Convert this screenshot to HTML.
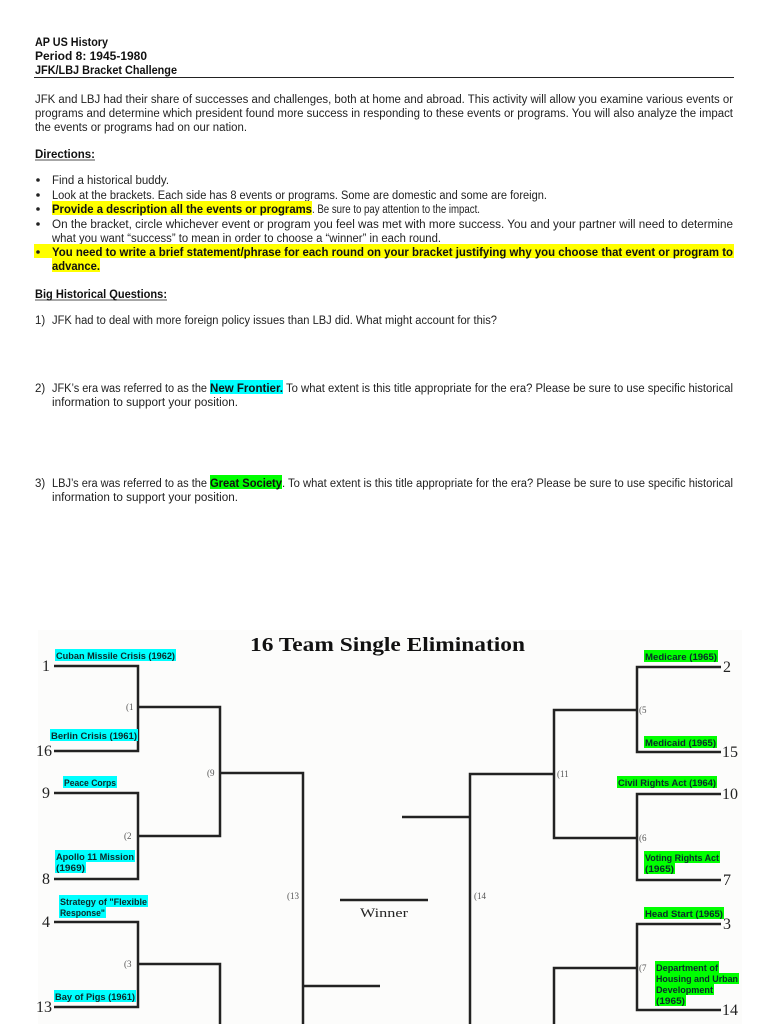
<!DOCTYPE html>
<html><head><meta charset="utf-8"><style>
html,body{margin:0;padding:0;background:#fff;}
svg{display:block;}
.b{font-family:"Liberation Sans",sans-serif;font-size:11.5px;fill:#222;}
.bb{font-family:"Liberation Sans",sans-serif;font-size:11.5px;font-weight:bold;fill:#111;}
.l{font-family:"Liberation Sans",sans-serif;font-size:9.5px;font-weight:bold;fill:#0a2a2a;}
.n{font-family:"Liberation Serif",serif;font-size:16px;fill:#222;}
.r{font-family:"Liberation Serif",serif;font-size:9px;fill:#555;}
.ln{stroke:#222;stroke-width:2.5;fill:none;}
</style></head><body>
<svg width="768" height="1024" viewBox="0 0 768 1024" xmlns="http://www.w3.org/2000/svg">
<rect width="768" height="1024" fill="#fff"/>
<text class="bb" x="35" y="46" textLength="73" lengthAdjust="spacingAndGlyphs">AP US History</text>
<text class="bb" x="35" y="60" textLength="112" lengthAdjust="spacingAndGlyphs">Period 8: 1945-1980</text>
<text class="bb" x="35" y="74" textLength="142" lengthAdjust="spacingAndGlyphs">JFK/LBJ Bracket Challenge</text>
<line x1="34" y1="77.5" x2="734" y2="77.5" stroke="#222" stroke-width="1"/>
<text class="b" x="35" y="103" textLength="698" lengthAdjust="spacingAndGlyphs">JFK and LBJ had their share of successes and challenges, both at home and abroad.  This activity will allow you examine various events or</text>
<text class="b" x="35" y="117" textLength="698" lengthAdjust="spacingAndGlyphs">programs and determine which president found more success in responding to these events or programs. You will also analyze the impact</text>
<text class="b" x="35" y="131" textLength="212" lengthAdjust="spacingAndGlyphs">the events or programs had on our nation.</text>
<text class="bb" x="35" y="158" textLength="60" lengthAdjust="spacingAndGlyphs">Directions:</text>
<line x1="35" y1="160" x2="95" y2="160" stroke="#111" stroke-width="0.8"/>
<g fill="#222"><circle cx="38" cy="180" r="1.8"/><circle cx="38" cy="195" r="1.8"/><circle cx="38" cy="209" r="1.8"/><circle cx="38" cy="224" r="1.8"/></g>
<text class="b" x="52" y="184" textLength="117" lengthAdjust="spacingAndGlyphs">Find a historical buddy.</text>
<text class="b" x="52" y="199" textLength="495" lengthAdjust="spacingAndGlyphs">Look at the brackets.  Each side has 8 events or programs.  Some are domestic and some are foreign.</text>
<rect x="52" y="201" width="260" height="14" fill="#ffff00"/>
<text class="bb" x="52" y="213" textLength="260" lengthAdjust="spacingAndGlyphs">Provide a description all the events or programs</text>
<text class="b" x="312" y="213" textLength="168" lengthAdjust="spacingAndGlyphs">.  Be sure to pay attention to the impact.</text>
<text class="b" x="52" y="228" textLength="681" lengthAdjust="spacingAndGlyphs">On the bracket, circle whichever event or program you feel was met with more success.  You and your partner will need to determine</text>
<text class="b" x="52" y="242" textLength="389" lengthAdjust="spacingAndGlyphs">what you want “success” to mean in order to choose a “winner” in each round.</text>
<rect x="34" y="244" width="700" height="14" fill="#ffff00"/>
<rect x="52" y="258" width="48" height="14" fill="#ffff00"/>
<circle cx="38" cy="252" r="1.8" fill="#222"/>
<text class="bb" x="52" y="256" textLength="681" lengthAdjust="spacingAndGlyphs">You need to write a brief statement/phrase for each round on your bracket justifying why you choose that event or program to</text>
<text class="bb" x="52" y="270" textLength="48" lengthAdjust="spacingAndGlyphs">advance.</text>
<text class="bb" x="35" y="298" textLength="132" lengthAdjust="spacingAndGlyphs">Big Historical Questions:</text>
<line x1="35" y1="300" x2="167" y2="300" stroke="#111" stroke-width="0.8"/>
<text class="b" x="35" y="324">1)</text>
<text class="b" x="52" y="324" textLength="445" lengthAdjust="spacingAndGlyphs">JFK had to deal with more foreign policy issues than LBJ did.  What might account for this?</text>
<text class="b" x="35" y="392">2)</text>
<text class="b" x="52" y="392" textLength="155" lengthAdjust="spacingAndGlyphs">JFK’s era was referred to as the</text>
<rect x="210" y="380" width="73" height="14" fill="#00ffff"/>
<text class="bb" x="210" y="392" textLength="73" lengthAdjust="spacingAndGlyphs">New Frontier.</text>
<text class="b" x="286" y="392" textLength="447" lengthAdjust="spacingAndGlyphs">To what extent is this title appropriate for the era? Please be sure to use specific historical</text>
<text class="b" x="52" y="406" textLength="186" lengthAdjust="spacingAndGlyphs">information to support your position.</text>
<text class="b" x="35" y="487">3)</text>
<text class="b" x="52" y="487" textLength="155" lengthAdjust="spacingAndGlyphs">LBJ’s era was referred to as the</text>
<rect x="210" y="475" width="72" height="14" fill="#00ff00"/>
<text class="bb" x="210" y="487" textLength="72" lengthAdjust="spacingAndGlyphs">Great Society</text>
<text class="b" x="282" y="487" textLength="451" lengthAdjust="spacingAndGlyphs">. To what extent is this title appropriate for the era? Please be sure to use specific historical</text>
<text class="b" x="52" y="501" textLength="186" lengthAdjust="spacingAndGlyphs">information to support your position.</text>

<rect x="38" y="630" width="704" height="394" fill="#fcfcfb"/>
<text x="250" y="651" font-family="Liberation Serif,serif" font-weight="bold" font-size="20" fill="#111" textLength="275" lengthAdjust="spacingAndGlyphs">16 Team Single Elimination</text>
<path class="ln" d="M54 666H138V751H54 M138 707H220V836H138 M54 793H138V879H54 M54 922H138V1007H54 M138 964H220V1024 M220 773H303V1024 M303 986H380"/>
<path class="ln" d="M721 667H637V752H721 M637 710H554V838H637 M721 794H637V880H721 M721 924H637V1010H721 M637 968H554V1024 M554 774H470V1024 M470 817H402"/>
<line x1="340" y1="900" x2="428" y2="900" stroke="#222" stroke-width="2.5"/>
<text x="360" y="917" font-family="Liberation Serif,serif" font-size="13" fill="#222" textLength="48" lengthAdjust="spacingAndGlyphs">Winner</text>
<text class="n" x="42" y="671">1</text>
<text class="n" x="36" y="756">16</text>
<text class="n" x="42" y="798">9</text>
<text class="n" x="42" y="884">8</text>
<text class="n" x="42" y="927">4</text>
<text class="n" x="36" y="1012">13</text>
<text class="n" x="723" y="672">2</text>
<text class="n" x="722" y="757">15</text>
<text class="n" x="722" y="799">10</text>
<text class="n" x="723" y="885">7</text>
<text class="n" x="723" y="929">3</text>
<text class="n" x="722" y="1015">14</text>
<text class="r" x="126" y="710">(1</text>
<text class="r" x="124" y="839">(2</text>
<text class="r" x="124" y="967">(3</text>
<text class="r" x="207" y="776">(9</text>
<text class="r" x="287" y="899">(13</text>
<text class="r" x="639" y="713">(5</text>
<text class="r" x="639" y="841">(6</text>
<text class="r" x="639" y="971">(7</text>
<text class="r" x="557" y="777">(11</text>
<text class="r" x="474" y="899">(14</text>
<rect x="55" y="649" width="121" height="12" fill="#00ffff"/><text class="l" x="56" y="659" textLength="119" lengthAdjust="spacingAndGlyphs">Cuban Missile Crisis (1962)</text>
<rect x="50" y="729" width="88" height="12" fill="#00ffff"/><text class="l" x="51" y="739" textLength="86" lengthAdjust="spacingAndGlyphs">Berlin Crisis (1961)</text>
<rect x="63" y="776" width="54" height="12" fill="#00ffff"/><text class="l" x="64" y="786" textLength="52" lengthAdjust="spacingAndGlyphs">Peace Corps</text>
<rect x="55" y="850" width="80" height="12" fill="#00ffff"/><rect x="55" y="862" width="31" height="11" fill="#00ffff"/>
<text class="l" x="56" y="860" textLength="78" lengthAdjust="spacingAndGlyphs">Apollo 11 Mission</text><text class="l" x="56" y="871" textLength="29" lengthAdjust="spacingAndGlyphs">(1969)</text>
<rect x="59" y="895" width="89" height="12" fill="#00ffff"/><rect x="59" y="907" width="47" height="11" fill="#00ffff"/>
<text class="l" x="60" y="905" textLength="87" lengthAdjust="spacingAndGlyphs">Strategy of "Flexible</text><text class="l" x="60" y="916" textLength="45" lengthAdjust="spacingAndGlyphs">Response"</text>
<rect x="54" y="990" width="82" height="12" fill="#00ffff"/><text class="l" x="55" y="1000" textLength="80" lengthAdjust="spacingAndGlyphs">Bay of Pigs (1961)</text>
<rect x="644" y="650" width="74" height="12" fill="#00ff00"/><text class="l" x="645" y="660" textLength="72" lengthAdjust="spacingAndGlyphs">Medicare (1965)</text>
<rect x="644" y="736" width="73" height="12" fill="#00ff00"/><text class="l" x="645" y="746" textLength="71" lengthAdjust="spacingAndGlyphs">Medicaid (1965)</text>
<rect x="617" y="776" width="100" height="12" fill="#00ff00"/><text class="l" x="618" y="786" textLength="98" lengthAdjust="spacingAndGlyphs">Civil Rights Act (1964)</text>
<rect x="644" y="851" width="76" height="12" fill="#00ff00"/><rect x="644" y="863" width="31" height="11" fill="#00ff00"/>
<text class="l" x="645" y="861" textLength="74" lengthAdjust="spacingAndGlyphs">Voting Rights Act</text><text class="l" x="645" y="872" textLength="29" lengthAdjust="spacingAndGlyphs">(1965)</text>
<rect x="644" y="907" width="80" height="12" fill="#00ff00"/><text class="l" x="645" y="917" textLength="78" lengthAdjust="spacingAndGlyphs">Head Start (1965)</text>
<rect x="655" y="961" width="64" height="12" fill="#00ff00"/><rect x="655" y="973" width="84" height="11" fill="#00ff00"/><rect x="655" y="984" width="59" height="11" fill="#00ff00"/><rect x="655" y="995" width="31" height="11" fill="#00ff00"/>
<text class="l" x="656" y="971" textLength="62" lengthAdjust="spacingAndGlyphs">Department of</text>
<text class="l" x="656" y="982" textLength="82" lengthAdjust="spacingAndGlyphs">Housing and Urban</text>
<text class="l" x="656" y="993" textLength="57" lengthAdjust="spacingAndGlyphs">Development</text>
<text class="l" x="656" y="1004" textLength="29" lengthAdjust="spacingAndGlyphs">(1965)</text>
</svg>
</body></html>
